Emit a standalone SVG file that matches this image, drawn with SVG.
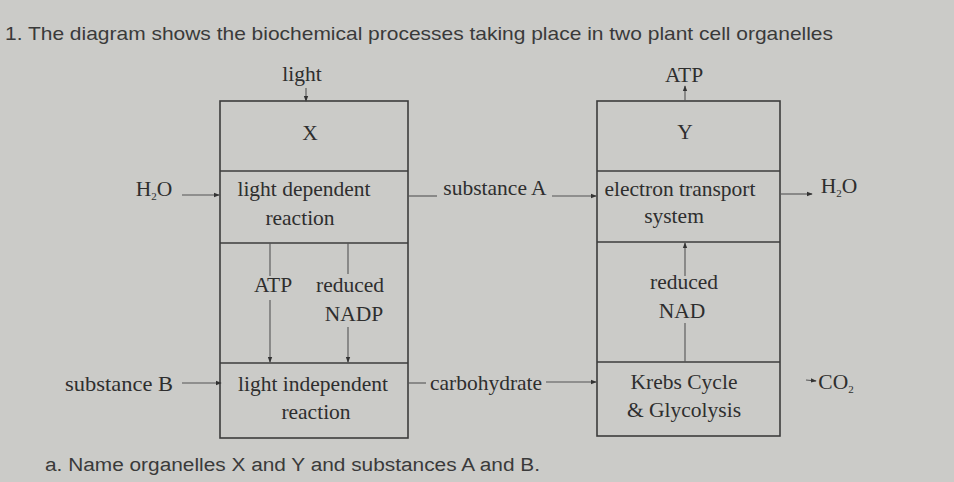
<svg xmlns="http://www.w3.org/2000/svg" width="954" height="482" viewBox="0 0 954 482">
<defs>
<style>
.sans{font-family:"Liberation Sans",Arial,sans-serif;fill:#3a3a3a;}
.serif{font-family:"Liberation Serif","Times New Roman",serif;fill:#2e2e2e;font-size:21.5px;text-anchor:middle;}
.box{fill:none;stroke:#3c3c3c;stroke-width:1.6;}
.div{stroke:#3c3c3c;stroke-width:1.4;}
.con{fill:none;stroke:#555;stroke-width:1.1;}
.arr{marker-end:url(#ah);}
</style>
<marker id="ah" viewBox="0 0 8 8" refX="7" refY="4" markerWidth="6" markerHeight="6" orient="auto" markerUnits="userSpaceOnUse">
<path d="M0,1 L8,4 L0,7 z" fill="#333"/>
</marker>
</defs>
<rect width="954" height="482" fill="#cbcbc8"/>

<text class="sans" x="5" y="40" font-size="18.5" textLength="828" lengthAdjust="spacingAndGlyphs">1. The diagram shows the biochemical processes taking place in two plant cell organelles</text>

<!-- Left organelle X -->
<g id="organelle-X">
<rect class="box" x="220" y="101" width="188" height="337"/>
</g>
<g id="X-label">
<line class="div" x1="220" y1="171" x2="408" y2="171"/>
<text class="serif" x="310" y="140">X</text>
</g>
<g id="light-dependent">
<line class="div" x1="220" y1="243" x2="408" y2="243"/>
<text class="serif" x="304" y="196">light dependent</text>
<text class="serif" x="300" y="225">reaction</text>
</g>
<g id="products-X">
<text class="serif" x="273" y="292">ATP</text>
<text class="serif" x="350" y="292">reduced</text>
<text class="serif" x="354" y="321">NADP</text>
</g>
<g id="light-independent">
<line class="div" x1="220" y1="363" x2="408" y2="363"/>
<text class="serif" x="313" y="391">light independent</text>
<text class="serif" x="316" y="419">reaction</text>
</g>

<!-- Right organelle Y -->
<g id="organelle-Y">
<rect class="box" x="597" y="101" width="183" height="335"/>
</g>
<g id="Y-label">
<line class="div" x1="597" y1="171" x2="780" y2="171"/>
<text class="serif" x="685" y="139">Y</text>
</g>
<g id="electron-transport">
<line class="div" x1="597" y1="242" x2="780" y2="242"/>
<text class="serif" x="680" y="196">electron transport</text>
<text class="serif" x="674" y="223">system</text>
</g>
<g id="reduced-NAD">
<text class="serif" x="684" y="289">reduced</text>
<text class="serif" x="682" y="318">NAD</text>
</g>
<g id="krebs">
<line class="div" x1="597" y1="362" x2="780" y2="362"/>
<text class="serif" x="684" y="389">Krebs Cycle</text>
<text class="serif" x="684" y="417">&amp; Glycolysis</text>
</g>

<!-- outside labels -->
<g id="light"><text class="serif" x="302" y="81">light</text></g>
<g id="ATP-out"><text class="serif" x="684" y="82">ATP</text></g>
<g id="H2O-in"><text class="serif" x="154" y="196">H<tspan font-size="11" dy="4">2</tspan><tspan dy="-4">O</tspan></text></g>
<g id="substance-A"><text class="serif" x="495" y="195">substance A</text></g>
<g id="H2O-out"><text class="serif" x="839" y="193">H<tspan font-size="11" dy="4">2</tspan><tspan dy="-4">O</tspan></text></g>
<g id="substance-B"><text class="serif" x="65" y="391" style="text-anchor:start" textLength="108" lengthAdjust="spacingAndGlyphs">substance B</text></g>
<g id="carbohydrate"><text class="serif" x="486" y="390">carbohydrate</text></g>
<g id="CO2-out"><text class="serif" x="836" y="389">CO<tspan font-size="11" dy="4">2</tspan></text></g>

<!-- connectors -->
<g id="connectors">
<line class="con arr" x1="306" y1="88" x2="306" y2="101"/>
<line class="con arr" x1="685" y1="101" x2="685" y2="86"/>
<line class="con arr" x1="182" y1="195" x2="219" y2="195"/>
<line class="con" x1="408" y1="196" x2="437" y2="196"/>
<line class="con arr" x1="552" y1="196" x2="596" y2="196"/>
<line class="con arr" x1="781" y1="194" x2="812" y2="194"/>
<line class="con" x1="270" y1="243" x2="270" y2="276"/>
<line class="con arr" x1="270" y1="300" x2="270" y2="362"/>
<line class="con" x1="348" y1="243" x2="348" y2="274"/>
<line class="con arr" x1="348" y1="327" x2="348" y2="362"/>
<line class="con arr" x1="182" y1="383" x2="221" y2="383"/>
<line class="con" x1="408" y1="383" x2="426" y2="383"/>
<line class="con arr" x1="546" y1="382" x2="596" y2="382"/>
<line class="con" x1="685" y1="362" x2="685" y2="323"/>
<line class="con arr" x1="685" y1="276" x2="685" y2="243"/>
<line class="con arr" x1="806" y1="380" x2="816" y2="381"/>
</g>

<text class="sans" x="45" y="471" font-size="18" textLength="495" lengthAdjust="spacingAndGlyphs">a. Name organelles X and Y and substances A and B.</text>
</svg>
